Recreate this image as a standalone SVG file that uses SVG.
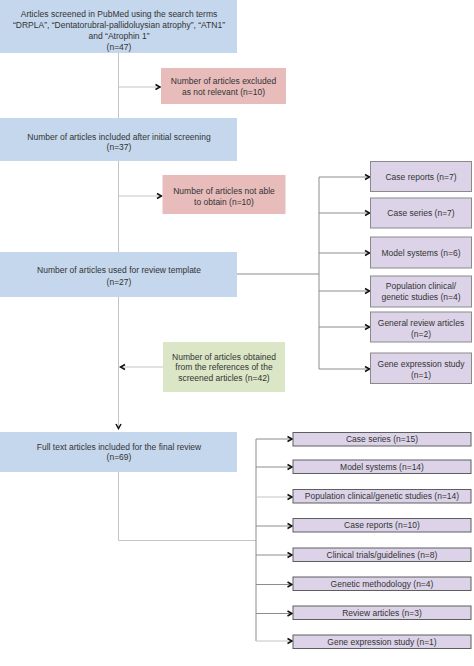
<svg xmlns="http://www.w3.org/2000/svg" width="474" height="666" viewBox="0 0 474 666">
<defs>
<style>
text{font-family:"Liberation Sans",Arial,sans-serif;font-size:8.5px;fill:#333;text-anchor:middle}
.blue{fill:#c5d7ed}
.red{fill:#e7bcbb}
.green{fill:#dbe6c6}
.pa{fill:#dcd3e8;stroke:#8a8a8a;stroke-width:1}
.pb{fill:#dcd3e8;stroke:#5e5e5e;stroke-width:1}
.ln{fill:none;stroke:#c4c4c4;stroke-width:1}
.lk{fill:none;stroke:#8c8c8c;stroke-width:1}
.ah{fill:none;stroke:#111;stroke-width:1.5}
</style>
<marker id="arr" viewBox="0 0 8 8" refX="7" refY="4" markerWidth="8" markerHeight="8" markerUnits="userSpaceOnUse" orient="auto">
<path d="M2,1.5 L6.5,4 L2,6.5" class="ah"/>
</marker>
</defs>

<g id="connectors">
<path class="ln" d="M118.5,53 V118 M118.5,161 V252 M118.5,297 V429" marker-end="url(#arr)"/>
<path class="ln" d="M118.5,87 H160.5" marker-end="url(#arr)"/>
<path class="ln" d="M118.5,196 H162" marker-end="url(#arr)"/>
<path class="ln" d="M163,367 H120" marker-end="url(#arr)"/>
<path class="lk" d="M237,274 H319 M319,177 V369"/>
<path class="lk" d="M319,177 H370" marker-end="url(#arr)"/>
<path class="lk" d="M319,213 H370" marker-end="url(#arr)"/>
<path class="lk" d="M319,253 H370" marker-end="url(#arr)"/>
<path class="lk" d="M319,291 H370" marker-end="url(#arr)"/>
<path class="lk" d="M319,327 H370" marker-end="url(#arr)"/>
<path class="lk" d="M319,369 H370" marker-end="url(#arr)"/>
<path class="ln" d="M118.5,472 V540.5 H256"/>
<path class="lk" d="M256,439 V641"/>
<path class="lk" d="M256,439 H292.5" marker-end="url(#arr)"/>
<path class="lk" d="M256,467 H292.5" marker-end="url(#arr)"/>
<path class="ln" d="M256,497 H292.5" marker-end="url(#arr)"/>
<path class="lk" d="M256,526 H292.5" marker-end="url(#arr)"/>
<path class="lk" d="M256,555 H292.5" marker-end="url(#arr)"/>
<path class="lk" d="M256,584.5 H292.5" marker-end="url(#arr)"/>
<path class="lk" d="M256,613.5 H292.5" marker-end="url(#arr)"/>
<path class="ln" d="M256,641 H292.5" marker-end="url(#arr)"/>
</g>

<g id="n-screened">
<rect class="blue" x="0" y="0" width="237" height="53"/>
<text x="119" y="17">Articles screened in PubMed using the search terms</text>
<text x="119" y="28">“DRPLA”, “Dentatorubral-pallidoluysian atrophy”, “ATN1”</text>
<text x="119" y="39">and “Atrophin 1”</text>
<text x="119" y="50">(n=47)</text>
</g>

<g id="n-excluded">
<rect class="red" x="161" y="68" width="125" height="36"/>
<text x="223.5" y="84">Number of articles excluded</text>
<text x="223.5" y="94.5">as not relevant  (n=10)</text>
</g>

<g id="n-included">
<rect class="blue" x="0" y="118" width="237" height="43"/>
<text x="119" y="139.5">Number of articles included after initial screening</text>
<text x="119" y="150">(n=37)</text>
</g>

<g id="n-notobtain">
<rect class="red" x="162.5" y="175" width="123" height="39"/>
<text x="224" y="193.5">Number of articles not able</text>
<text x="224" y="204.5">to obtain (n=10)</text>
</g>

<g id="n-template">
<rect class="blue" x="0" y="252" width="237" height="45"/>
<text x="119" y="273">Number of articles used for review template</text>
<text x="119" y="284.5">(n=27)</text>
</g>

<g id="n-references">
<rect class="green" x="163" y="342" width="122" height="50"/>
<text x="224" y="359.5">Number of articles obtained</text>
<text x="224" y="370">from the references of the</text>
<text x="224" y="380.5">screened articles (n=42)</text>
</g>

<g id="n-final">
<rect class="blue" x="0" y="432" width="237" height="40"/>
<text x="119" y="449.5">Full text articles included for the final review</text>
<text x="119" y="460">(n=69)</text>
</g>

<g id="t-casereports">
<rect class="pa" x="370.5" y="161.5" width="101" height="30"/>
<text x="421" y="180">Case reports (n=7)</text>
</g>
<g id="t-caseseries">
<rect class="pa" x="370.5" y="198" width="101" height="30"/>
<text x="421" y="216">Case series (n=7)</text>
</g>
<g id="t-model">
<rect class="pa" x="370.5" y="237" width="101" height="31"/>
<text x="421" y="256">Model systems (n=6)</text>
</g>
<g id="t-population">
<rect class="pa" x="370.5" y="276" width="101" height="31"/>
<text x="421" y="289">Population clinical/</text>
<text x="421" y="299.5">genetic studies (n=4)</text>
</g>
<g id="t-general">
<rect class="pa" x="370.5" y="312" width="101" height="30"/>
<text x="421" y="326">General review articles</text>
<text x="421" y="336.5">(n=2)</text>
</g>
<g id="t-geneexpr">
<rect class="pa" x="370.5" y="353" width="101" height="30.5"/>
<text x="421" y="367">Gene expression study</text>
<text x="421" y="377.5">(n=1)</text>
</g>

<g id="f-caseseries">
<rect class="pb" x="293" y="432.5" width="178" height="13.5"/>
<text x="382" y="442.3">Case series (n=15)</text>
</g>
<g id="f-model">
<rect class="pb" x="293" y="460" width="178" height="13.5"/>
<text x="382" y="469.8">Model systems (n=14)</text>
</g>
<g id="f-population">
<rect class="pb" x="293" y="489.5" width="178" height="13.5"/>
<text x="382" y="499.3">Population clinical/genetic studies (n=14)</text>
</g>
<g id="f-casereports">
<rect class="pb" x="293" y="518.5" width="178" height="13.5"/>
<text x="382" y="528.3">Case reports (n=10)</text>
</g>
<g id="f-clinical">
<rect class="pb" x="293" y="548" width="178" height="13.5"/>
<text x="382" y="557.8">Clinical trials/guidelines (n=8)</text>
</g>
<g id="f-genetic">
<rect class="pb" x="293" y="577" width="178" height="13.5"/>
<text x="382" y="586.8">Genetic methodology (n=4)</text>
</g>
<g id="f-review">
<rect class="pb" x="293" y="606" width="178" height="13.5"/>
<text x="382" y="615.8">Review articles (n=3)</text>
</g>
<g id="f-geneexpr">
<rect class="pb" x="293" y="635" width="178" height="13.5"/>
<text x="382" y="644.8">Gene expression study (n=1)</text>
</g>
</svg>
